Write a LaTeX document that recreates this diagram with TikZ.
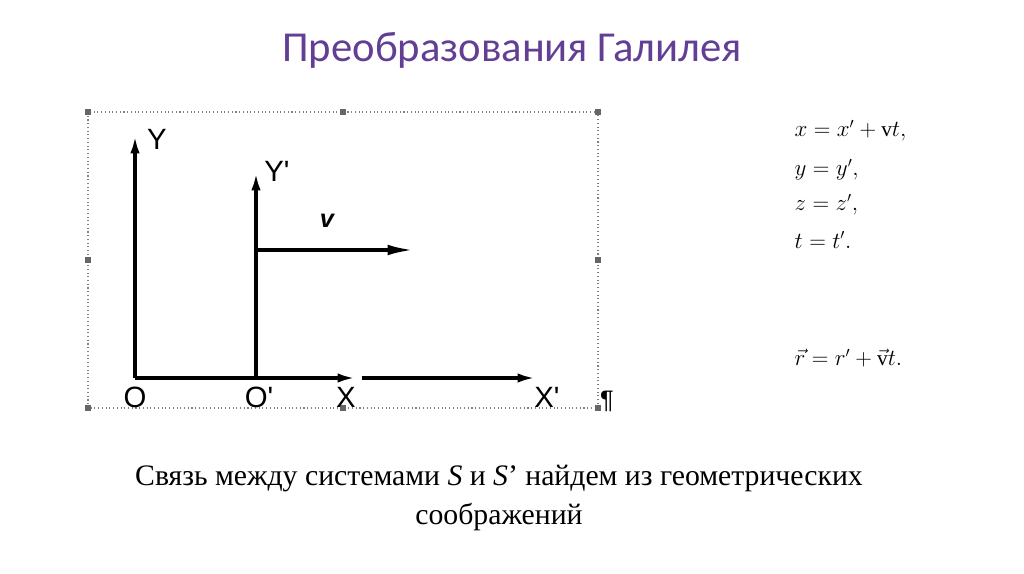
\documentclass[tikz,border=0pt]{standalone}
\usepackage{fontspec}
\setmainfont{Liberation Serif}
\newfontfamily\titlefont{Carlito}
\newfontfamily\axisfont{Liberation Sans}
\usetikzlibrary{arrows.meta}
\definecolor{titlepurple}{RGB}{98,62,148}
\tikzset{
  axis/.style={line width=2.4pt,-{Latex[length=13pt,width=7pt]}},
  axlabel/.style={font=\axisfont\fontsize{22}{22}\selectfont},
  handle/.style={fill=gray!80!black,draw=none,minimum size=4.5pt,inner sep=0pt},
  formula/.style={anchor=west,font=\fontsize{16}{16}\selectfont}
}
\begin{document}
\begin{tikzpicture}[x=0.75pt,y=-0.75pt]
\useasboundingbox (0,0) rectangle (1024,574);
\node[font=\titlefont\fontsize{32}{32}\selectfont,text=titlepurple] (title) at (512,50) {Преобразования Галилея};
% frame with handles
\draw[gray,dotted,line width=0.8pt] (88,112) rectangle (598,408);
\foreach \x/\y [count=\i] in {88/112,343/112,598/112,88/260,598/260,88/408,343/408,598/408}
  \node[handle] (h\i) at (\x,\y) {};
% frames
\coordinate (O) at (135,378);
\coordinate (Ytip) at (135,136);
\coordinate (Op) at (256,378);
\coordinate (Yptip) at (256,173);
\coordinate (vstart) at (256,250);
\coordinate (vtip) at (413,250);
\coordinate (Xtip) at (355,378);
\coordinate (Xpstart) at (362,378);
\coordinate (Xptip) at (535,378);
\draw[axis] (O) -- (Ytip);
\draw[axis] (Op) -- (Yptip);
\draw[axis,-{Latex[length=19pt,width=8pt]}] (vstart) -- (vtip);
\draw[axis] (O) -- (Xtip);
\draw[axis] (Xpstart) -- (Xptip);
\node[axlabel] (lY) at (157,139) {Y};
\node[axlabel] (lYp) at (277,171) {Y'};
\node[font=\axisfont\bfseries\itshape\fontsize{19}{19}\selectfont] (lv) at (327,221) {v};
\node[axlabel] (lO) at (135,397) {O};
\node[axlabel] (lOp) at (259,397) {O'};
\node[axlabel] (lX) at (346,397) {X};
\node[axlabel] (lXp) at (547,397) {X'};
\node[font=\axisfont\fontsize{19}{19}\selectfont] (pil) at (607,401) {¶};
% formulas
\node[formula] (f1) at (790,131) {$x=x'+\mathrm{v}t,$};
\node[formula] (f2) at (790,170) {$y=y',$};
\node[formula] (f3) at (790,205) {$z=z',$};
\node[formula] (f4) at (790,240) {$t=t'.$};
\node[formula] (f5) at (790,358) {$\vec r=r'+\vec{\mathrm{v}}t.$};
% text
\node[align=center,font=\fontsize{22.3}{29}\selectfont] (txt) at (499,498)
  {Связь между системами \textit{S} и \textit{S}’ найдем из геометрических\\соображений};
\end{tikzpicture}
\end{document}
